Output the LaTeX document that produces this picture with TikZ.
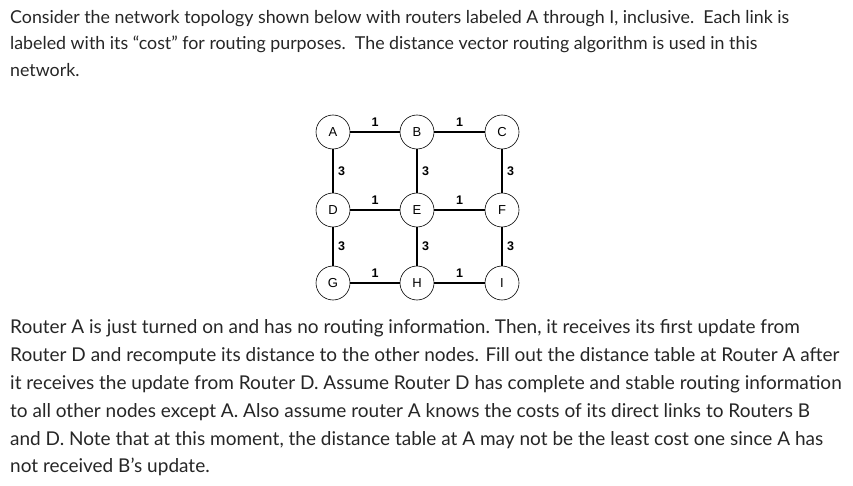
\documentclass[tikz,border=0pt]{standalone}
\usepackage{fontspec}
\setmainfont{Lato}
\newfontfamily\arialf{Liberation Sans}
\begin{document}
\begin{tikzpicture}[x=1pt,y=-1pt,
  rt/.style={circle,draw,line width=0.6pt,minimum size=34pt,inner sep=0pt,font=\arialf\fontsize{13}{14}\selectfont},
  ln/.style={line width=1.6pt},
  cost/.style={font=\arialf\bfseries\fontsize{12.5}{13}\selectfont},
  txt/.style={anchor=base west,inner sep=0pt,font=\fontsize{17.8}{20}\selectfont,text=black!85},
  txtb/.style={txt,font=\fontsize{19}{21}\selectfont}]
\useasboundingbox (0,0) rectangle (853,486);
\node[txt] (t1) at (10,24) {Consider the network topology shown below with routers labeled A through I, inclusive.\ \ Each link is};
\node[txt] (t2) at (10,50) {labeled with its “cost” for routing purposes.\ \ The distance vector routing algorithm is used in this};
\node[txt] (t3) at (10,77) {network.};
\foreach \n/\x/\y in {A/333/132,B/417/132,C/502/132,D/333/210,E/417/210,F/502/210,G/333/283,H/417/283,I/502/283}
  \node[rt] (\n) at (\x,\y) {\n};
\foreach \a/\b in {A/B,B/C,D/E,E/F,G/H,H/I}
  \draw[ln] (\a) -- node[cost,above=1pt] {1} (\b);
\foreach \a/\b in {A/D,B/E,C/F,D/G,E/H,F/I}
  \draw[ln] (\a) -- node[cost,right=1pt] {3} (\b);
\node[txtb] (p1) at (10,333) {Router A is just turned on and has no routing information.\ Then, it receives its first update from};
\node[txtb] (p2) at (10,361) {Router D and recompute its distance to the other nodes. Fill out the distance table at Router A after};
\node[txtb] (p3) at (10,389) {it receives the update from Router D.\ Assume Router D has complete and stable routing information};
\node[txtb] (p4) at (10,417) {to all other nodes except A.\ Also assume router A knows the costs of its direct links to Routers B};
\node[txtb] (p5) at (10,445) {and D.\ Note that at this moment, the distance table at A may not be the least cost one since A has};
\node[txtb] (p6) at (10,472) {not received B's update.};
\end{tikzpicture}
\end{document}
